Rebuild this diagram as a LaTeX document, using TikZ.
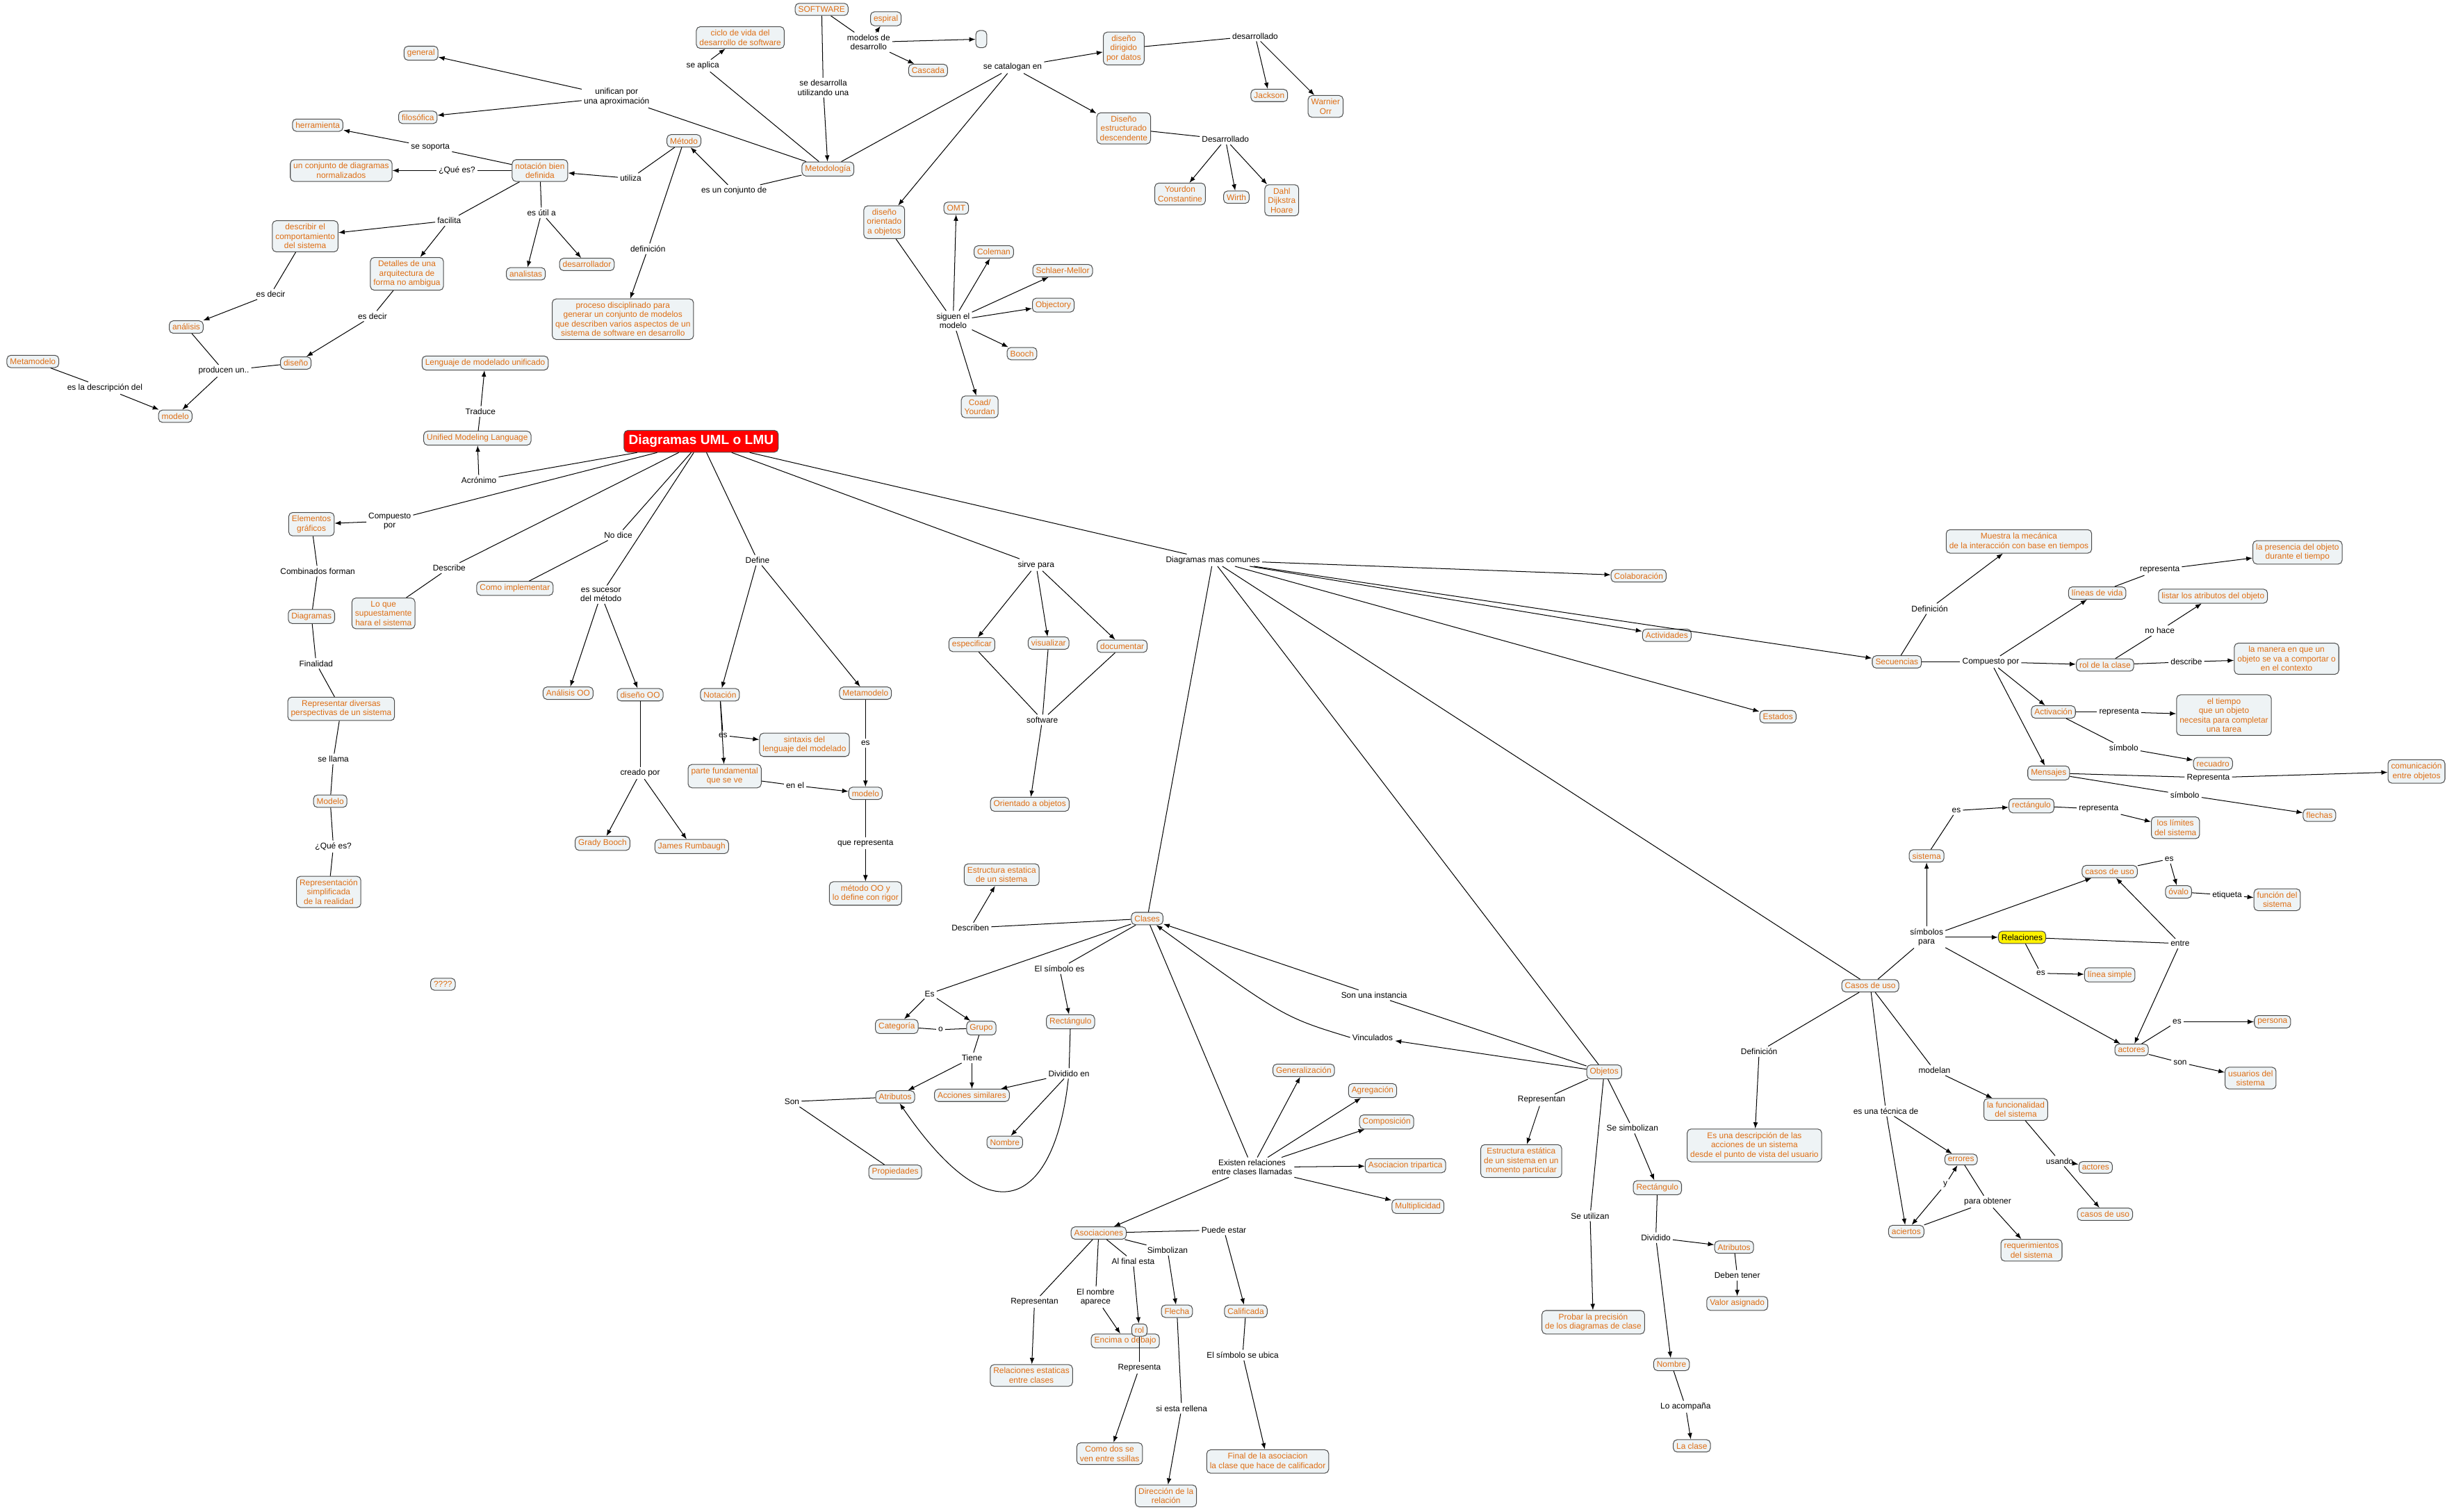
\documentclass[tikz,border=0pt]{standalone}
\usepackage{amsmath}
\usepackage{fontspec}
\setmainfont{Liberation Sans}
\usepackage{tikz}
\usetikzlibrary{arrows.meta}
\definecolor{boxfill}{RGB}{238,243,245}
\definecolor{boxtext}{RGB}{222,110,20}
\tikzset{
  c/.style={draw=black!70, fill=boxfill, rounded corners=2.5pt, text=boxtext, align=center,
            inner sep=2pt, font=\fontsize{5.3}{6}\selectfont},
  l/.style={align=center, inner sep=1.2pt, font=\fontsize{5.3}{6}\selectfont},
  arr/.style={-{Latex[length=4pt,width=3pt]}},
}
\begin{document}
\begin{tikzpicture}[x=1pt,y=-1pt,line width=0.45pt]
\useasboundingbox (0,0) rectangle (1568,966);

% top: metodologia
\node[c] (soft) at (525,6) {SOFTWARE};
\node[c] (espiral) at (566,12) {espiral};
\node[c, minimum width=7pt, minimum height=11pt] (blank) at (627,25) {};
\node[c] (cascada) at (593,45) {Cascada};
\node[l] (lmod) at (555,27) {modelos de\\desarrollo};
\node[l] (lsedes) at (526,56) {se desarrolla\\utilizando una};
\node[c] (metod) at (529,108) {Metodología};
\node[c] (ciclo) at (473,24) {ciclo de vida del\\desarrollo de software};
\node[l] (laplica) at (449,42) {se aplica};
\node[c] (general) at (269,34) {general};
\node[l] (lunif) at (394,62) {unifican por\\una aproximación};
\node[c] (filos) at (267,75) {filosófica};
\node[c] (herram) at (203,80) {herramienta};
\node[l] (lsoporta) at (275,94) {se soporta};
\node[c] (notac) at (345,109) {notación bien\\definida};
\node[l] (lque) at (292,109) {¿Qué es?};
\node[c] (conjdiag) at (218,109) {un conjunto de diagramas\\normalizados};
\node[c] (metodo) at (437,90) {Método};
\node[l] (lutiliza) at (403,114) {utiliza};
\node[l] (lconj) at (469,122) {es un conjunto de};
\node[l] (lcatal) at (647,43) {se catalogan en};
\node[c] (dirig) at (718,31) {diseño\\dirigido\\por datos};
\node[l] (ldes) at (802,23) {desarrollado};
\node[c] (jackson) at (811,61) {Jackson};
\node[c] (warnier) at (847,68) {Warnier\\Orr};
\node[c] (estruc) at (718,82) {Diseño\\estructurado\\descendente};
\node[l] (ldes2) at (783,89) {Desarrollado};
\node[c] (yourdon) at (754,124) {Yourdon\\Constantine};
\node[c] (wirth) at (790,126) {Wirth};
\node[c] (dahl) at (819,128) {Dahl\\Dijkstra\\Hoare};
\node[c] (orient) at (565,142) {diseño\\orientado\\a objetos};
\node[c] (omt) at (611,133) {OMT};
\node[c] (coleman) at (635,161) {Coleman};
\node[c] (schlaer) at (679,173) {Schlaer-Mellor};
\node[c] (objectory) at (673,195) {Objectory};
\node[c] (booch) at (653,226) {Booch};
\node[c] (coad) at (626,260) {Coad/\\Yourdan};
\node[l] (lsiguen) at (609,205) {siguen el\\modelo};
\node[l] (lfacil) at (287,141) {facilita};
\node[c] (describir) at (195,151) {describir el\\comportamiento\\del sistema};
\node[l] (lutil) at (346,136) {es útil a};
\node[c] (detalles) at (260,175) {Detalles de una\\arquitectura de\\forma no ambigua};
\node[c] (analistas) at (336,175) {analistas};
\node[c] (desarr) at (375,169) {desarrollador};
\node[l] (ldefin) at (414,159) {definición};
\node[c] (proceso) at (398,204) {proceso disciplinado para\\generar un conjunto de modelos\\que describen varios aspectos de un\\sistema de software en desarrollo};
\node[l] (ldecir) at (173,188) {es decir};
\node[c] (analisis) at (119,209) {análisis};
\node[l] (ldecir2) at (238,202) {es decir};
\node[c] (diseno) at (189,232) {diseño};
\node[l] (lproducen) at (143,237) {producen un..};
\node[c] (metamod) at (21,231) {Metamodelo};
\node[l] (ldescr) at (67,248) {es la descripción del};
\node[c] (modelo) at (112,266) {modelo};
\node[c] (lenguaje) at (310,232) {Lenguaje de modelado unificado};
\node[l] (ltraduce) at (307,263) {Traduce};
\node[c] (unified) at (305,280) {Unified Modeling Language};
\node[l] (lacron) at (306,307) {Acrónimo};

% root
\node[draw=black!70, fill=red, text=white, rounded corners=2.5pt, inner sep=3pt,
      font=\fontsize{8.5}{10}\selectfont\bfseries] (root) at (448,282) {Diagramas UML o LMU};

% left branch
\node[c] (elem) at (199,335) {Elementos\\gráficos};
\node[l] (lcomp) at (249,333) {Compuesto\\por};
\node[l] (lcomb) at (203,365) {Combinados forman};
\node[c] (diagr) at (199,394) {Diagramas};
\node[l] (lfinal) at (202,424) {Finalidad};
\node[c] (repres) at (218,453) {Representar diversas\\perspectivas de un sistema};
\node[l] (lllama) at (213,485) {se llama};
\node[c] (modelo2) at (211,512) {Modelo};
\node[l] (lque2) at (213,541) {¿Qué es?};
\node[c] (simplif) at (210,570) {Representación\\simplificada\\de la realidad};
\node[l] (ldescribe) at (287,363) {Describe};
\node[c] (loque) at (245,392) {Lo que\\supuestamente\\hara el sistema};
\node[l] (lnodice) at (395,342) {No dice};
\node[c] (comoimp) at (329,376) {Como implementar};
\node[l] (lsucesor) at (384,380) {es sucesor\\del método};
\node[c] (anaoo) at (363,443) {Análisis OO};
\node[c] (disoo) at (409,444) {diseño OO};
\node[l] (lcreado) at (409,494) {creado por};
\node[c] (grady) at (385,539) {Grady Booch};
\node[c] (james) at (442,541) {James Rumbaugh};
\node[l] (ldefine) at (484,358) {Define};
\node[c] (notacion) at (460,444) {Notación};
\node[c] (metamod2) at (553,443) {Metamodelo};
\node[l] (les1) at (462,470) {es};
\node[c] (sintaxis) at (514,476) {sintaxis del\\lenguaje del modelado};
\node[l] (les2) at (553,475) {es};
\node[c] (parte) at (463,496) {parte fundamental\\que se ve};
\node[l] (lenel) at (508,502) {en el};
\node[c] (modelo3) at (553,507) {modelo};
\node[l] (lquerep) at (553,539) {que representa};
\node[c] (metodooo) at (553,571) {método OO y\\lo define con rigor};
\node[l] (lsirve) at (662,361) {sirve para};
\node[c] (espec) at (621,412) {especificar};
\node[c] (visual) at (670,411) {visualizar};
\node[c] (docum) at (717,413) {documentar};
\node[l] (lsoftware) at (666,460) {software};
\node[c] (orobj) at (658,514) {Orientado a objetos};
\node[c] (qq) at (283,629) {????};

% diagramas mas comunes
\node[l] (lcomunes) at (775,358) {Diagramas mas comunes};
\node[c] (colab) at (1047,368) {Colaboración};
\node[c] (activ) at (1065,406) {Actividades};
\node[c] (estados) at (1136,458) {Estados};
\node[c] (secuen) at (1212,423) {Secuencias};
\node[l] (ldef1) at (1233,389) {Definición};
\node[c] (muestra) at (1290,346) {Muestra la mecánica\\de la interacción con base en tiempos};
\node[l] (lcomp2) at (1272,423) {Compuesto por};
\node[c] (lineas) at (1340,379) {líneas de vida};
\node[l] (lrep1) at (1380,364) {representa};
\node[c] (presencia) at (1468,353) {la presencia del objeto\\durante el tiempo};
\node[c] (listar) at (1414,381) {listar los atributos del objeto};
\node[l] (lnohace) at (1380,403) {no hace};
\node[c] (rol) at (1345,425) {rol de la clase};
\node[l] (ldescribe2) at (1397,423) {describe};
\node[c] (manera) at (1461,421) {la manera en que un\\objeto se va a comportar o\\en el contexto};
\node[c] (activa) at (1312,455) {Activación};
\node[l] (lrep2) at (1354,455) {representa};
\node[c] (tiempo) at (1421,457) {el tiempo\\que un objeto\\necesita para completar\\una tarea};
\node[l] (lsimb1) at (1357,478) {símbolo};
\node[c] (recuadro) at (1414,488) {recuadro};
\node[c] (mensajes) at (1309,494) {Mensajes};
\node[l] (lrep3) at (1411,497) {Representa};
\node[c] (comunic) at (1544,493) {comunicación\\entre objetos};
\node[l] (lsimb2) at (1396,508) {símbolo};
\node[c] (flechas) at (1482,521) {flechas};

% casos de uso
\node[c] (casos) at (1195,630) {Casos de uso};
\node[l] (lsimbolos) at (1231,599) {símbolos\\para};
\node[c] (sistema) at (1231,547) {sistema};
\node[l] (les3) at (1250,518) {es};
\node[c] (rectang) at (1298,515) {rectángulo};
\node[l] (lrep4) at (1341,517) {representa};
\node[c] (limites) at (1390,529) {los límites\\del sistema};
\node[c] (casos2) at (1348,557) {casos de uso};
\node[l] (les4) at (1386,549) {es};
\node[c] (ovalo) at (1392,570) {óvalo};
\node[l] (letiq) at (1423,572) {etiqueta};
\node[c] (funcion) at (1455,575) {función del\\sistema};
\node[c, fill=yellow, text=black] (relac) at (1292,599) {Relaciones};
\node[l] (lentre) at (1393,603) {entre};
\node[l] (les5) at (1304,622) {es};
\node[c] (linea) at (1348,623) {línea simple};
\node[c] (actores) at (1362,671) {actores};
\node[l] (les6) at (1391,653) {es};
\node[c] (persona) at (1452,653) {persona};
\node[l] (lson) at (1393,679) {son};
\node[c] (usuarios) at (1438,689) {usuarios del\\sistema};
\node[l] (ldef2) at (1124,672) {Definición};
\node[c] (esdesc) at (1121,732) {Es una descripción de las\\acciones de un sistema\\desde el punto de vista del usuario};
\node[l] (lmodelan) at (1236,684) {modelan};
\node[c] (funcional) at (1288,709) {la funcionalidad\\del sistema};
\node[l] (lusando) at (1316,742) {usando};
\node[c] (actores2) at (1339,746) {actores};
\node[c] (casos3) at (1345,776) {casos de uso};
\node[l] (ltecnica) at (1205,710) {es una técnica de};
\node[c] (errores) at (1253,741) {errores};
\node[l] (ly) at (1243,757) {y};
\node[c] (aciertos) at (1218,787) {aciertos};
\node[l] (lpara) at (1270,768) {para obtener};
\node[c] (requer) at (1298,799) {requerimientos\\del sistema};

% clases
\node[c] (clases) at (733,587) {Clases};
\node[c] (estest) at (640,559) {Estructura estatica\\de un sistema};
\node[l] (ldescriben) at (620,593) {Describen};
\node[l] (les7) at (594,635) {Es};
\node[c] (categ) at (573,656) {Categoría};
\node[l] (lo) at (601,658) {o};
\node[c] (grupo) at (627,657) {Grupo};
\node[l] (ltiene) at (621,676) {Tiene};
\node[c] (atrib) at (572,701) {Atributos};
\node[c] (acciones) at (621,700) {Acciones similares};
\node[l] (lsimbes) at (677,619) {El símbolo es};
\node[c] (rect1) at (684,653) {Rectángulo};
\node[l] (ldiv1) at (683,686) {Dividido en};
\node[c] (nombre1) at (642,730) {Nombre};
\node[l] (lson2) at (506,704) {Son};
\node[c] (propied) at (572,749) {Propiedades};
\node[l] (linstancia) at (878,636) {Son una instancia};
\node[l] (lvinc) at (877,663) {Vinculados};
\node[c] (objetos) at (1025,685) {Objetos};
\node[l] (lrepresentan) at (985,703) {Representan};
\node[c] (estest2) at (972,742) {Estructura estática\\de un sistema en un\\momento particular};
\node[l] (lsimbolizan) at (1043,721) {Se simbolizan};
\node[c] (rect2) at (1059,759) {Rectángulo};
\node[l] (lutilizan) at (1016,777) {Se utilizan};
\node[c] (probar) at (1018,845) {Probar la precisión\\de los diagramas de clase};
\node[l] (ldiv2) at (1058,791) {Dividido};
\node[c] (atrib2) at (1108,797) {Atributos};
\node[l] (ldeben) at (1110,815) {Deben tener};
\node[c] (valor) at (1110,833) {Valor asignado};
\node[c] (nombre2) at (1068,872) {Nombre};
\node[l] (lacomp) at (1077,899) {Lo acompaña};
\node[c] (laclase) at (1081,924) {La clase};
\node[l] (lexisten) at (800,746) {Existen relaciones\\entre clases llamadas};
\node[c] (general2) at (833,684) {Generalización};
\node[c] (agreg) at (877,697) {Agregación};
\node[c] (compos) at (886,717) {Composición};
\node[c] (tripart) at (898,745) {Asociacion tripartica};
\node[c] (multip) at (906,771) {Multiplicidad};
\node[c] (asoc) at (702,788) {Asociaciones};
\node[l] (lpuede) at (782,786) {Puede estar};
\node[l] (lsimbolizan2) at (746,799) {Simbolizan};
\node[l] (lfinal2) at (724,806) {Al final esta};
\node[l] (lnombre) at (700,829) {El nombre\\aparece};
\node[l] (lrepresentan2) at (661,832) {Representan};
\node[c] (encima) at (719,857) {Encima o debajo};
\node[c] (rol2) at (728,850) {rol};
\node[c] (flecha) at (752,838) {Flecha};
\node[c] (calif) at (796,838) {Calificada};
\node[c] (relest) at (659,879) {Relaciones estaticas\\entre clases};
\node[l] (lrepresenta5) at (728,874) {Representa};
\node[l] (lubica) at (794,866) {El símbolo se ubica};
\node[l] (lrellena) at (755,900) {si esta rellena};
\node[c] (comodos) at (709,929) {Como dos se\\ven entre ssillas};
\node[c] (finalas) at (810,934) {Final de la asociacion\\la clase que hace de calificador};
\node[c] (direcc) at (745,956) {Dirección de la\\relación};

% plain lines
\foreach \a/\b in {soft/lmod, soft/lsedes, metod/laplica, metod/lunif, metod/lconj, metod/lcatal,
  dirig/ldes, estruc/ldes2, orient/lsiguen, metodo/lutiliza, metodo/ldefin, notac/lsoporta,
  notac/lque, notac/lfacil, notac/lutil, describir/ldecir, detalles/ldecir2, diseno/lproducen,
  analisis/lproducen, metamod/ldescr, unified/ltraduce, root/lacron, root/lcomp, elem/lcomb,
  lcomb/diagr, diagr/lfinal, lfinal/repres, repres/lllama, lllama/modelo2, modelo2/lque2,
  lque2/simplif, root/ldescribe, ldescribe/loque, root/lnodice, lnodice/comoimp, root/lsucesor,
  disoo/lcreado, root/ldefine, notacion/les1, metamod2/les2, parte/lenel, modelo3/lquerep,
  root/lsirve, espec/lsoftware, visual/lsoftware, docum/lsoftware, root/lcomunes,
  secuen/ldef1, secuen/lcomp2, lineas/lrep1, rol/lnohace, rol/ldescribe2, activa/lrep2,
  activa/lsimb1, mensajes/lrep3, mensajes/lsimb2, casos/lsimbolos, sistema/les3, rectang/lrep4,
  casos2/les4, ovalo/letiq, relac/lentre, relac/les5, actores/les6, actores/lson, casos/ldef2,
  casos/lmodelan, funcional/lusando, casos/ltecnica, errores/lpara, aciertos/lpara,
  clases/ldescriben, clases/les7, categ/lo, lo/grupo, grupo/ltiene, clases/lsimbes, rect1/ldiv1,
  atrib/lson2, lson2/propied, objetos/linstancia, objetos/lrepresentan, objetos/lsimbolizan,
  objetos/lutilizan, rect2/ldiv2, atrib2/ldeben, nombre2/lacomp, clases/lexisten,
  asoc/lpuede, asoc/lsimbolizan2, asoc/lfinal2, asoc/lnombre, asoc/lrepresentan2,
  rol2/lrepresenta5, calif/lubica, flecha/lrellena}
  \draw (\a) -- (\b);
\draw (lcomunes) -- (clases);
\draw (lcomunes) -- (objetos);
\draw (lcomunes) -- (casos);

% arrows
\foreach \a/\b in {lmod/espiral, lmod/blank, lmod/cascada, lsedes/metod, laplica/ciclo,
  lunif/general, lunif/filos, lconj/metodo, lcatal/dirig, lcatal/estruc, lcatal/orient,
  ldes/jackson, ldes/warnier, ldes2/yourdon, ldes2/wirth, ldes2/dahl, lsiguen/omt,
  lsiguen/coleman, lsiguen/schlaer, lsiguen/objectory, lsiguen/booch, lsiguen/coad,
  lutiliza/notac, ldefin/proceso, lsoporta/herram, lque/conjdiag, lfacil/describir,
  lfacil/detalles, lutil/analistas, lutil/desarr, ldecir/analisis, ldecir2/diseno,
  lproducen/modelo, ldescr/modelo, ltraduce/lenguaje, lacron/unified, lcomp/elem,
  lsucesor/anaoo, lsucesor/disoo, lcreado/grady, lcreado/james, ldefine/notacion,
  ldefine/metamod2, les1/sintaxis, notacion/parte, les2/modelo3, lenel/modelo3,
  lquerep/metodooo, lsirve/espec, lsirve/visual, lsirve/docum, lsoftware/orobj,
  lcomunes/colab, lcomunes/activ, lcomunes/estados, lcomunes/secuen, ldef1/muestra,
  lcomp2/lineas, lcomp2/rol, lcomp2/activa, lcomp2/mensajes, lrep1/presencia, lnohace/listar,
  ldescribe2/manera, lrep2/tiempo, lsimb1/recuadro, lrep3/comunic, lsimb2/flechas,
  lsimbolos/sistema, lsimbolos/casos2, lsimbolos/relac, lsimbolos/actores, les3/rectang,
  lrep4/limites, les4/ovalo, letiq/funcion, lentre/casos2, lentre/actores, les5/linea,
  les6/persona, lson/usuarios, ldef2/esdesc, lmodelan/funcional, lusando/actores2,
  lusando/casos3, ltecnica/errores, ltecnica/aciertos, lpara/requer, ldescriben/estest,
  les7/categ, les7/grupo, ltiene/atrib, ltiene/acciones, lsimbes/rect1, ldiv1/acciones,
  ldiv1/nombre1, linstancia/clases, objetos/lvinc, lrepresentan/estest2, lsimbolizan/rect2,
  lutilizan/probar, ldiv2/atrib2, ldiv2/nombre2, ldeben/valor, lacomp/laclase,
  lexisten/general2, lexisten/agreg, lexisten/compos, lexisten/tripart, lexisten/multip,
  lexisten/asoc, lpuede/calif, lsimbolizan2/flecha, lfinal2/rol2, lnombre/encima,
  lrepresentan2/relest, lrepresenta5/comodos, lubica/finalas, lrellena/direcc}
  \draw[arr] (\a) -- (\b);
\draw[arr] (lvinc.west) .. controls (820,650) .. (clases);
\draw[arr] (ldiv1) .. controls (675,760) and (640,800) .. (atrib);
\draw[arr] (ly) -- (aciertos);
\draw[arr] (ly) -- (errores);
\end{tikzpicture}
\end{document}
